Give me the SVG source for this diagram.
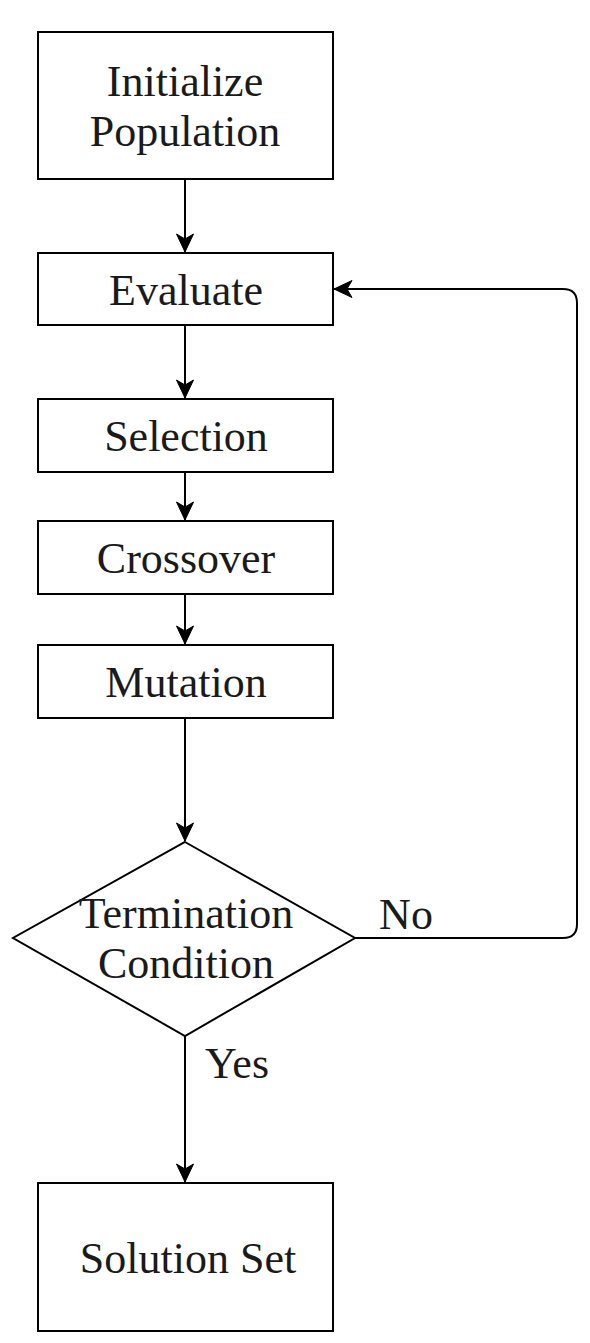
<svg xmlns="http://www.w3.org/2000/svg" width="590" height="1343" viewBox="0 0 590 1343">
<defs>
<style>
.box{fill:#fff;stroke:#000;stroke-width:2}
.lbl{font-family:"Liberation Serif","Times New Roman",serif;font-size:44px;fill:#1a1a1a;text-anchor:middle}
.edge{fill:none;stroke:#000;stroke-width:2;marker-end:url(#arr)}
</style>
<marker id="arr" markerUnits="userSpaceOnUse" viewBox="-20 -10 22 20" refX="0" refY="0" markerWidth="22" markerHeight="20" orient="auto">
<path d="M0,0 L-18,-8.5 L-13,0 L-18,8.5 Z" fill="#000" stroke="#000" stroke-width="1"/>
</marker>
</defs>
<rect width="590" height="1343" fill="#fff"/>
<g id="connectors">
<path class="edge" d="M185,179 V252"/>
<path class="edge" d="M185,325 V398"/>
<path class="edge" d="M185,472 V520"/>
<path class="edge" d="M185,594 V644"/>
<path class="edge" d="M185,718 V841"/>
<path class="edge" d="M185,1036 V1182"/>
<path class="edge" d="M355,938 H563 Q577,938 577,924 V303 Q577,289 563,289 H334"/>
<text class="lbl" x="406" y="929">No</text>
<text class="lbl" x="237" y="1078">Yes</text>
</g>
<g id="init">
<rect class="box" x="38" y="32" width="295" height="147"/>
<text class="lbl" x="185" y="96">Initialize</text>
<text class="lbl" x="185" y="146">Population</text>
</g>
<g id="evaluate">
<rect class="box" x="38" y="253" width="295" height="72"/>
<text class="lbl" x="186" y="305">Evaluate</text>
</g>
<g id="selection">
<rect class="box" x="38" y="399" width="295" height="73"/>
<text class="lbl" x="186" y="451">Selection</text>
</g>
<g id="crossover">
<rect class="box" x="38" y="521" width="295" height="73"/>
<text class="lbl" x="186" y="573">Crossover</text>
</g>
<g id="mutation">
<rect class="box" x="38" y="645" width="295" height="73"/>
<text class="lbl" x="186" y="697">Mutation</text>
</g>
<g id="termination">
<path class="box" d="M185,842 L355,938 L185,1036 L13,938 Z"/>
<text class="lbl" x="186" y="928">Termination</text>
<text class="lbl" x="186" y="978">Condition</text>
</g>
<g id="solution">
<rect class="box" x="38" y="1183" width="295" height="148"/>
<text class="lbl" x="188" y="1273">Solution Set</text>
</g>
</svg>
